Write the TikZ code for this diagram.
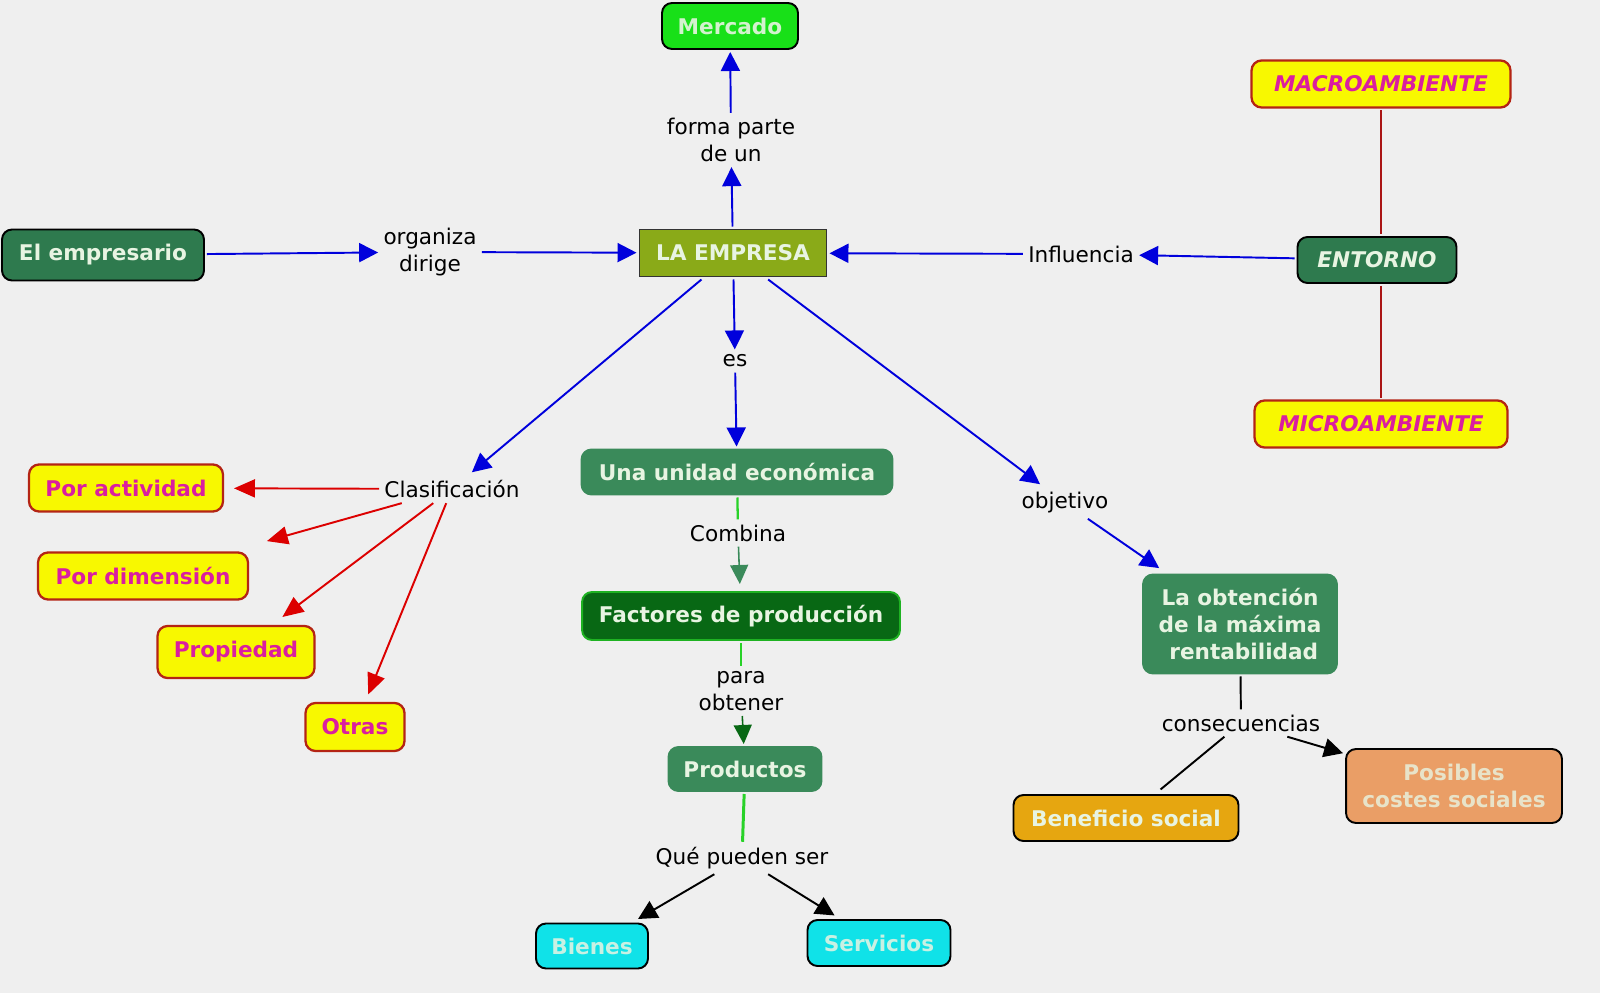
\documentclass[tikz,border=0pt]{standalone}
\usepackage{fontspec}
\setmainfont{DejaVu Sans}
\usetikzlibrary{arrows.meta}
\newcommand{\fs}{\fontsize{12.3}{15.3}\selectfont}
\definecolor{bg}{RGB}{239,239,239}
\definecolor{dkgreen}{RGB}{46,122,78}
\definecolor{mdgreen}{RGB}{58,138,90}
\definecolor{fgreen}{RGB}{8,104,20}
\definecolor{olive}{RGB}{138,170,24}
\definecolor{mgreen}{RGB}{24,224,24}
\definecolor{pale}{RGB}{232,244,226}
\definecolor{yel}{RGB}{248,248,0}
\definecolor{yelborder}{RGB}{180,36,20}
\definecolor{mag}{RGB}{218,30,160}
\definecolor{cyanbox}{RGB}{16,226,232}
\definecolor{gold}{RGB}{230,166,16}
\definecolor{sandy}{RGB}{234,158,102}
\definecolor{blueA}{RGB}{0,0,220}
\definecolor{redA}{RGB}{220,0,0}
\definecolor{lgreen}{RGB}{40,210,40}
\definecolor{dred}{RGB}{170,20,20}
\tikzset{
  cbox/.style={draw=black, line width=1.1pt, rounded corners=0.2cm, font=\fs\bfseries,
    text=pale, align=center, outer sep=0.06cm, inner sep=0pt},
  ybox/.style={cbox, fill=yel, draw=yelborder, line width=1.3pt, text=mag},
  lk/.style={font=\fs, align=center, inner sep=0.1cm, text=black},
  tipA/.style={-{Triangle[length=0.38cm,width=0.38cm]}},
  barrow/.style={draw=blueA, line width=1.1pt, tipA, blueA},
  rarrow/.style={draw=redA, line width=1.1pt, -{Triangle[length=0.42cm,width=0.36cm]}, redA},
  karrow/.style={draw=black, line width=1.1pt, tipA},
  kline/.style={draw=black, line width=1.1pt},
  gline/.style={draw=lgreen, line width=1.3pt},
  rline/.style={draw=dred, line width=1.1pt},
}
\begin{document}
\begin{tikzpicture}[x=0.02cm,y=-0.02cm]
\fill[bg] (0,0) rectangle (1600,993);
\useasboundingbox (0,0) rectangle (1600,993);

% concept boxes
\node[cbox, fill=mgreen, text=pale!90!mgreen, minimum width=2.72cm, minimum height=0.92cm] (mercado) at (730,26) {Mercado};
\node[cbox, fill=olive, draw=black!80, rounded corners=0pt, minimum width=3.74cm, minimum height=0.94cm] (empresa) at (733,253) {LA EMPRESA};
\node[cbox, fill=dkgreen, minimum width=4.04cm, minimum height=1.02cm] (empresario) at (103,255) {El empresario};
\node[cbox, fill=dkgreen, font=\fs\bfseries\itshape, minimum width=3.18cm, minimum height=0.92cm] (entorno) at (1377,260) {ENTORNO};
\node[ybox, font=\fs\bfseries\itshape, minimum width=5.18cm, minimum height=0.94cm] (macro) at (1381,84) {MACROAMBIENTE};
\node[ybox, font=\fs\bfseries\itshape, minimum width=5.06cm, minimum height=0.94cm] (micro) at (1381,424) {MICROAMBIENTE};
\node[cbox, fill=mdgreen, draw=mdgreen, minimum width=6.22cm, minimum height=0.9cm] (unidad) at (737,472) {Una unidad económica};
\node[cbox, fill=fgreen, draw=lgreen!70!fgreen, minimum width=6.36cm, minimum height=0.96cm] (factores) at (741,616) {Factores de producción};
\node[cbox, fill=mdgreen, draw=mdgreen, minimum width=3.06cm, minimum height=0.88cm] (productos) at (745,769) {Productos};
\node[cbox, fill=cyanbox, text=pale!85!cyanbox, minimum width=2.24cm, minimum height=0.9cm] (bienes) at (592,946) {Bienes};
\node[cbox, fill=cyanbox, text=pale!85!cyanbox, minimum width=2.86cm, minimum height=0.92cm] (servicios) at (879,943) {Servicios};
\node[ybox, minimum width=3.88cm, minimum height=0.94cm] (poract) at (126,488) {Por actividad};
\node[ybox, minimum width=4.2cm, minimum height=0.94cm] (pordim) at (143,576) {Por dimensión};
\node[ybox, minimum width=3.14cm, minimum height=1.04cm] (propiedad) at (236,652) {Propiedad};
\node[ybox, minimum width=1.98cm, minimum height=0.96cm] (otras) at (355,727) {Otras};
\node[cbox, fill=mdgreen, draw=mdgreen, minimum width=3.88cm, minimum height=1.98cm] (obtencion) at (1240,624) {La obtención\\de la máxima\\\ rentabilidad};
\node[cbox, fill=gold, minimum width=4.5cm, minimum height=0.92cm] (beneficio) at (1126,818) {Beneficio social};
\node[cbox, fill=sandy, text=pale!80!sandy, minimum width=4.32cm, minimum height=1.48cm] (posibles) at (1454,786) {Posibles\\costes sociales};

% linking phrases
\node[lk] (forma) at (731,140) {forma parte\\de un};
\node[lk] (organiza) at (430,252) {organiza\\dirige};
\node[lk] (influencia) at (1081,254) {Influencia};
\node[lk] (es) at (735,361) {es};
\node[lk] (clas) at (452,489) {Clasificación};
\node[lk] (objetivo) at (1065,503) {objetivo};
\node[lk] (combina) at (738,533) {Combina};
\node[lk] (para) at (741,691) {para\\obtener};
\node[lk] (que) at (742,858) {Qué pueden ser};
\node[lk] (consec) at (1241,723) {consecuencias};

% connectors
\draw[barrow] (empresa) -- (forma);
\draw[barrow] (forma) -- (mercado);
\draw[barrow] (empresario) -- (organiza);
\draw[barrow] (organiza) -- (empresa);
\draw[barrow] (entorno) -- (influencia);
\draw[barrow] (influencia) -- (empresa);
\draw[rline] (macro.south) -- (macro.south |- entorno.north);
\draw[rline] (micro.north |- entorno.south) -- (micro.north);
\draw[barrow] (empresa) -- (es);
\draw[barrow] (es) -- (unidad);
\draw[barrow, shorten >=0.08cm] (empresa) -- (clas);
\draw[barrow, shorten >=0.1cm] (empresa) -- (objetivo);
\draw[barrow, shorten >=0.12cm] (objetivo) -- (obtencion);
\draw[rarrow, shorten >=0.16cm] (clas) -- (poract);
\draw[rarrow, shorten >=0.62cm] (clas) -- (pordim);
\draw[rarrow, shorten >=0.2cm] (clas) -- (propiedad);
\draw[rarrow, shorten >=0.12cm] (clas) -- (otras);
\draw[gline] (unidad) -- (combina);
\draw[draw=fgreen!60!mdgreen, line width=0.9pt, -{Triangle[length=0.38cm,width=0.36cm]}, mdgreen, shorten >=0.1cm] (combina) -- (factores);
\draw[gline] (factores) -- (para);
\draw[draw=fgreen, line width=0.9pt, -{Triangle[length=0.38cm,width=0.36cm]}, fgreen] (para) -- (productos);
\draw[gline, line width=1.7pt] (productos) -- (que);
\draw[karrow, shorten >=0.06cm] (que) -- (bienes);
\draw[karrow, shorten >=0.06cm] (que) -- (servicios);
\draw[kline] (obtencion) -- (consec);
\draw[kline, shorten >=0.08cm] (consec) -- (beneficio);
\draw[karrow] (consec) -- (posibles);
\end{tikzpicture}
\end{document}
